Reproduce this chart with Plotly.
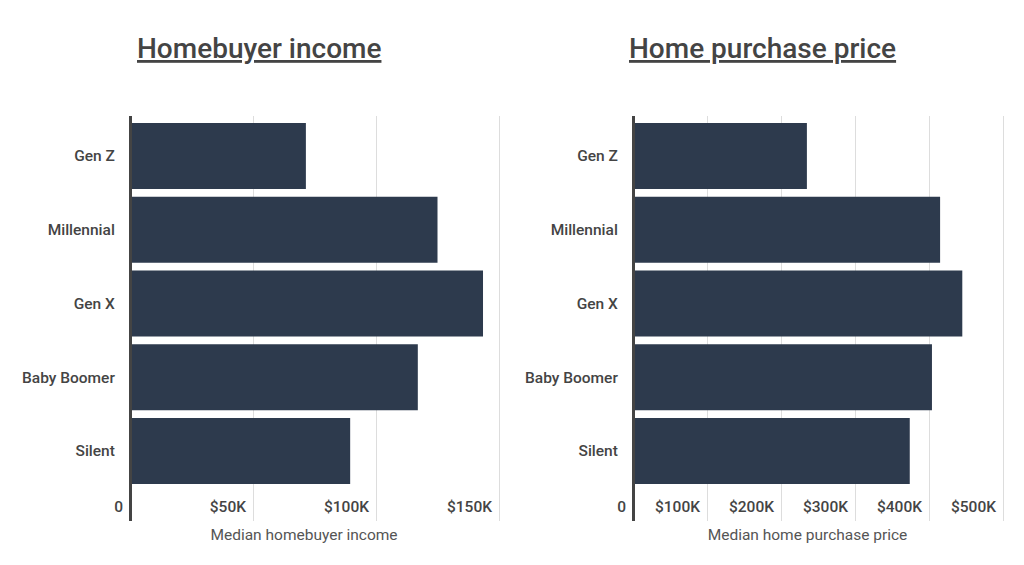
import plotly.graph_objects as go
from plotly.subplots import make_subplots

generations = ["Gen Z", "Millennial", "Gen X", "Baby Boomer", "Silent"]
income = [71500, 125000, 143500, 117000, 89500]
price = [235000, 415000, 445000, 404000, 374000]

income_ticks = [0, 50000, 100000, 150000]
income_tick_labels = ["0", "$50K", "$100K", "$150K"]
price_ticks = [0, 100000, 200000, 300000, 400000, 500000]
price_tick_labels = ["0", "$100K", "$200K", "$300K", "$400K", "$500K"]

titles = ["Homebuyer income", "Home purchase price"]
axis_titles = ["Median homebuyer income", "Median home purchase price"]

BAR = "#2d3a4d"
FONT = "Roboto"

W, H = 1024, 565
top, bottom = 116, 521

# pixel layout of the two panels: zero position, max-tick position
panels = [
    dict(zero=130, end=499, vmax=150000),
    dict(zero=633, end=1003, vmax=500000),
]
LEFT_PAD, RIGHT_PAD = 24, 3

fig = make_subplots(rows=1, cols=2)
fig.add_trace(go.Bar(y=generations, x=income, orientation="h", marker_color=BAR,
                     marker_line_width=0, showlegend=False), row=1, col=1)
fig.add_trace(go.Bar(y=generations, x=price, orientation="h", marker_color=BAR,
                     marker_line_width=0, showlegend=False), row=1, col=2)

fig.update_layout(
    width=W, height=H,
    margin=dict(l=0, r=0, t=top, b=H - bottom),
    plot_bgcolor="white", paper_bgcolor="white",
    bargap=0.105,
    font=dict(family=FONT, color="#444444", size=15),
)

slot = (451 - 156) / 4
y_range = [4 + (bottom - 451) / slot, -(156 - top) / slot]

ticks = [(income_ticks, income_tick_labels), (price_ticks, price_tick_labels)]
for i, p in enumerate(panels):
    per_px = p["vmax"] / (p["end"] - p["zero"])
    rng = [-LEFT_PAD * per_px, p["vmax"] + RIGHT_PAD * per_px]
    dom = [(p["zero"] - LEFT_PAD) / W, (p["end"] + RIGHT_PAD) / W]
    fig.update_xaxes(
        domain=dom, range=rng, tickvals=ticks[i][0], ticktext=ticks[i][1],
        showgrid=True, gridcolor="#dddddd", gridwidth=1, zeroline=False,
        showline=False, ticks="", ticklabelposition="inside left",
        ticklabelshift=-7,
        tickfont=dict(size=15.5, color="#444444", family=FONT, weight=500),
        title=dict(text=axis_titles[i], font=dict(size=15.5, color="#555555"), standoff=14),
        row=1, col=i + 1)
    fig.update_yaxes(
        categoryorder="array", categoryarray=generations,
        range=y_range, showgrid=False, zeroline=False,
        anchor="free", position=p["zero"] / W,
        showline=True, linecolor="#444444", linewidth=3, ticks="",
        ticklabelstandoff=11,
        tickfont=dict(size=15.5, color="#444444", family=FONT, weight=500),
        row=1, col=i + 1)

title_y = (bottom - 48) / (bottom - top)
for t, cx in zip(titles, [259, 762]):
    fig.add_annotation(text="<u>" + t + "</u>", xref="paper", yref="paper",
                       x=cx / W, y=title_y, xanchor="center", yanchor="middle",
                       showarrow=False,
                       font=dict(size=28, color="#444444", family=FONT, weight=500))

fig.write_html("out.html", config={"displayModeBar": False},
               post_script="document.body.style.margin='0px';")
